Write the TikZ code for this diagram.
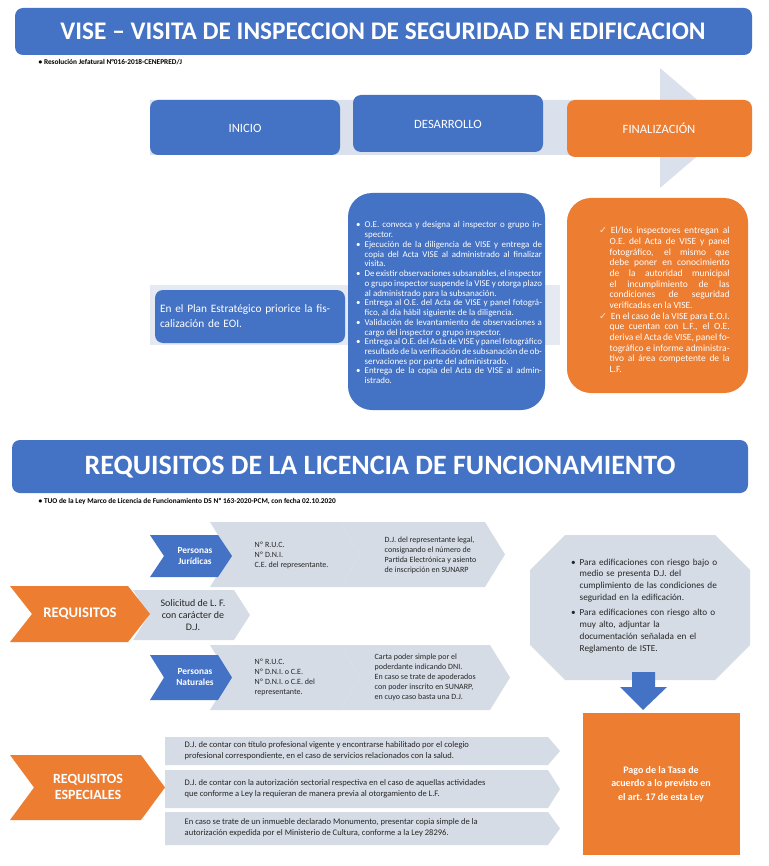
\documentclass[tikz,border=0pt]{standalone}
\usepackage{fontspec}
\setmainfont{Carlito}
\newfontfamily\djv{DejaVu Sans}
\newenvironment{tl}[1]{\begin{list}{\textbullet}{\setlength\topsep{0pt}\setlength\partopsep{0pt}\setlength\itemsep{0pt}\setlength\parsep{0pt}\setlength\leftmargin{#1}\setlength\labelwidth{5pt}\setlength\labelsep{3pt}}}{\end{list}}
\newcommand\mychev[6]{\fill[#6] (#1,#2) -- (#3-#5,#2) -- (#3,{(#2+#4)/2}) -- (#3-#5,#4) -- (#1,#4) -- (#1+#5,{(#2+#4)/2}) -- cycle;}
\newcommand\mypent[6]{\fill[#6] (#1,#2) -- (#3-#5,#2) -- (#3,{(#2+#4)/2}) -- (#3-#5,#4) -- (#1,#4) -- cycle;}
\definecolor{bl}{HTML}{4472C4}
\definecolor{org}{HTML}{ED7D31}
\definecolor{lt}{HTML}{D6DCE5}
\definecolor{lt2}{HTML}{DAE0EC}
\tikzset{x=0.75pt,y=-0.75pt,
 title/.style={text=white,font=\bfseries\fontsize{19}{21}\selectfont},
 note/.style={anchor=west,font=\bfseries\fontsize{5.5}{6}\selectfont},
 wt/.style={text=white,font=\fontsize{6.7}{7.3}\selectfont,align=justify},
 dk/.style={text=black!85,font=\fontsize{6}{7.5}\selectfont,align=left},
}
\begin{document}
\begin{tikzpicture}
\useasboundingbox (0,0) rectangle (768,866);
\fill[white] (0,0) rectangle (768,866);
% title 1
\fill[bl,rounded corners=6pt] (15,8) rectangle (752,55);
\node[title] (t1) at (383,31) {VISE – VISITA DE INSPECCION DE SEGURIDAD EN EDIFICACION};
\node[note] (n1) at (34,62) {• Resolución Jefatural N°016-2018-CENEPRED/J};
% big arrow
\fill[lt2] (150,100) -- (660,100) -- (660,68) -- (730,128) -- (660,188) -- (660,155) -- (150,155) -- cycle;
\fill[bl,rounded corners=6pt] (150,100) rectangle (340,155);
\node[text=white,font=\fontsize{9.5}{11}\selectfont] (ini) at (245,128) {INICIO};
\fill[bl,rounded corners=6pt] (353,95) rectangle (543,152);
\node[text=white,font=\fontsize{9.5}{11}\selectfont] (des) at (448,124) {DESARROLLO};
\fill[org,rounded corners=6pt] (567,100) rectangle (752,157);
\node[text=white,font=\fontsize{9.5}{11}\selectfont] (fin) at (659,128) {FINALIZACIÓN};
% band
\fill[lt2!70] (150,285) rectangle (560,345);
\fill[bl,rounded corners=6pt] (155,290) rectangle (345,343);
\node[text=white,font=\fontsize{8.5}{11}\selectfont,align=left,text width=135pt] (ple) at (250,316) {En el Plan Estratégico priorice la fiscalización de EOI.};
\fill[bl,rounded corners=18pt] (348,193) rectangle (545,410);
\node[wt,text width=141pt] (dtxt) at (448,301) {\begin{tl}{8pt}
\item O.E. convoca y designa al inspector o grupo inspector.
\item Ejecución de la diligencia de VISE y entrega de copia del Acta VISE al administrado al finalizar visita.
\item De existir observaciones subsanables, el inspector o grupo inspector suspende la VISE y otorga plazo al administrado para la subsanación.
\item Entrega al O.E. del Acta de VISE y panel fotográfico, al día hábil siguiente de la diligencia.
\item Validación de levantamiento de observaciones a cargo del inspector o grupo inspector.
\item Entrega al O.E. del Acta de VISE y panel fotográfico resultado de la verificación de subsanación de observaciones por parte del administrado.
\item Entrega de la copia del Acta de VISE al administrado.
\end{tl}};
\fill[org,rounded corners=18pt] (567,198) rectangle (748,393);
\node[wt,text width=112pt,font=\fontsize{7.1}{8}\selectfont] (ftxt) at (655,298) {\begin{tl}{22pt}
\item[{\djv\color{white!75!org}✓}] El/los inspectores entregan al O.E. del Acta de VISE y panel fotográfico, el mismo que debe poner en conocimiento de la autoridad municipal el incumplimiento de las condiciones de seguridad verificadas en la VISE.
\item[{\djv\color{white!75!org}✓}] En el caso de la VISE para E.O.I. que cuentan con L.F., el O.E. deriva el Acta de VISE, panel fotográfico e informe administrativo al área competente de la L.F.
\end{tl}};
% title 2
\fill[bl,rounded corners=6pt] (12,440) rectangle (748,493);
\node[title,font=\bfseries\fontsize{21}{23}\selectfont] (t2) at (380,467) {REQUISITOS DE LA LICENCIA DE FUNCIONAMIENTO};
\node[note] (n2) at (34,501) {• TUO de la Ley Marco de Licencia de Funcionamiento DS Nº 163-2020-PCM, con fecha 02.10.2020};
% row 1
\mychev{210}{522}{360}{587}{20}{lt}
\mychev{340}{522}{505}{587}{20}{lt}
\mychev{150}{535}{232}{577}{14}{bl}
\node[text=white,font=\bfseries\fontsize{7}{8.5}\selectfont,align=center] (pj) at (195,556) {Personas\\Jurídicas};
\node[dk,anchor=west] (r1a) at (250,555) {Nº R.U.C.\\Nº D.N.I.\\C.E. del representante.};
\node[dk,anchor=west] (r1b) at (380,555) {D.J. del representante legal,\\consignando el número de\\Partida Electrónica y asiento\\de inscripción en SUNARP};
% row 2
\mychev{133}{590}{250}{640}{16}{lt}
\mychev{10}{586}{150}{642}{22}{org}
\node[text=white,font=\bfseries\fontsize{11}{13}\selectfont] (req) at (80,614) {REQUISITOS};
\node[dk,font=\fontsize{7.5}{9}\selectfont,align=center] (sol) at (193,615) {Solicitud de L. F.\\con carácter de\\D.J.};
% row 3
\mychev{210}{645}{360}{710}{20}{lt}
\mychev{340}{645}{510}{710}{20}{lt}
\mychev{150}{655}{232}{700}{14}{bl}
\node[text=white,font=\bfseries\fontsize{7}{8.5}\selectfont,align=center] (pn) at (195,677) {Personas\\Naturales};
\node[dk,anchor=west] (r3a) at (250,677) {Nº R.U.C.\\Nº D.N.I. o C.E.\\Nº D.N.I. o C.E. del\\representante.};
\node[dk,anchor=west] (r3b) at (370,677) {Carta poder simple por el\\poderdante indicando DNI.\\En caso se trate de apoderados\\con poder inscrito en SUNARP,\\en cuyo caso basta una D.J.};
% octagon
\fill[lt] (565,535) -- (715,535) -- (750,570) -- (750,645) -- (715,680) -- (565,680) -- (530,645) -- (530,570) -- cycle;
\node[dk,font=\fontsize{6.9}{8.8}\selectfont,text width=120pt] (oct) at (641,603) {\begin{tl}{14pt}\setlength\itemsep{3pt}
\item Para edificaciones con riesgo bajo o medio se presenta D.J. del cumplimiento de las condiciones de seguridad en la edificación.
\item Para edificaciones con riesgo alto o muy alto, adjuntar la documentación señalada en el Reglamento de ISTE.
\end{tl}};
\fill[bl] (632,672) -- (655,672) -- (655,687) -- (667,687) -- (643,710) -- (620,687) -- (632,687) -- cycle;
\fill[org] (583,713) rectangle (740,855);
\node[text=white,font=\bfseries\fontsize{7.5}{10}\selectfont,align=center] (pago) at (661,784) {Pago de la Tasa de\\acuerdo a lo previsto en\\el art. 17 de esta Ley};
% especiales
\mypent{165}{737}{560}{765}{12}{lt}
\mypent{165}{770}{560}{808}{12}{lt}
\mypent{165}{812}{560}{845}{12}{lt}
\mychev{10}{755}{165}{820}{24}{org}
\node[text=white,font=\bfseries\fontsize{10.5}{12}\selectfont,align=center] (re) at (88,787) {REQUISITOS\\ESPECIALES};
\node[dk,font=\fontsize{6.4}{8}\selectfont,anchor=west] (e1) at (180,751) {D.J. de contar con título profesional vigente y encontrarse habilitado por el colegio\\profesional correspondiente, en el caso de servicios relacionados con la salud.};
\node[dk,font=\fontsize{6.4}{8}\selectfont,anchor=west] (e2) at (180,789) {D.J. de contar con la autorización sectorial respectiva en el caso de aquellas actividades\\que conforme a Ley la requieran de manera previa al otorgamiento de L.F.};
\node[dk,font=\fontsize{6.4}{8}\selectfont,anchor=west] (e3) at (180,828) {En caso se trate de un inmueble declarado Monumento, presentar copia simple de la\\autorización expedida por el Ministerio de Cultura, conforme a la Ley 28296.};
\end{tikzpicture}
\end{document}
